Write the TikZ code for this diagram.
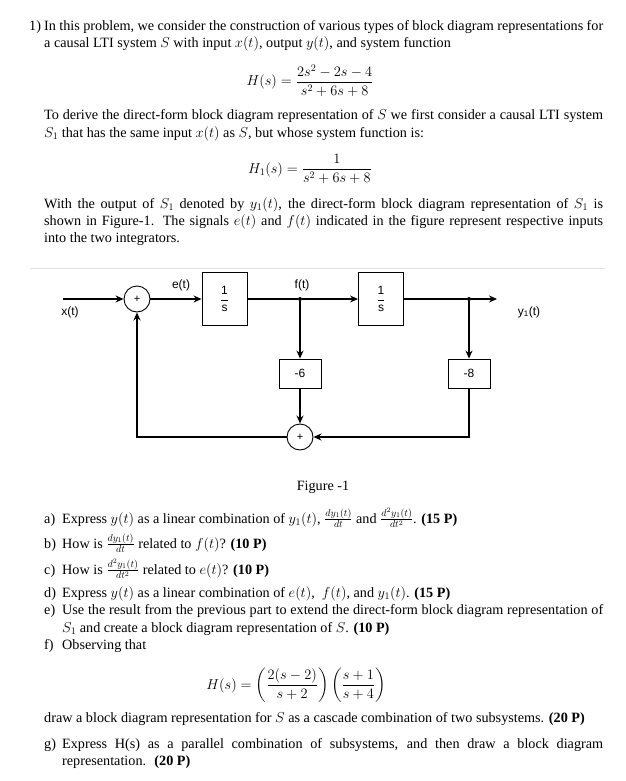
\documentclass[tikz,border=0pt]{standalone}
\usepackage{amsmath}
\usepackage{fontspec}
\setmainfont{Liberation Serif}
\newfontfamily\diagfont{Liberation Sans}
\usetikzlibrary{arrows.meta}
\tikzset{
  txt/.style={anchor=base west, inner sep=0pt, font=\fontsize{14.2}{16}\selectfont},
  ctr/.style={anchor=base, inner sep=0pt, font=\fontsize{14.2}{16}\selectfont},
  blk/.style={draw, line width=0.9pt, minimum width=45pt, minimum height=53pt, inner sep=0pt, font=\diagfont\fontsize{12}{14}\selectfont},
  gain/.style={draw, line width=0.9pt, minimum width=42pt, minimum height=29pt, inner sep=0pt, font=\diagfont\fontsize{12}{14}\selectfont},
  summ/.style={draw, circle, line width=0.9pt, minimum size=26pt, inner sep=0pt, font=\diagfont\fontsize{11}{13}\selectfont},
  sig/.style={line width=1.3pt, -{Stealth[length=8pt,width=7pt]}},
  wire/.style={line width=1.3pt},
  lab/.style={inner sep=0pt, font=\diagfont\fontsize{12}{14}\selectfont},
  dot/.style={circle, fill, inner sep=0pt, minimum size=4pt}
}
\newcommand{\jl}[1]{\makebox[559pt][s]{#1}}
\newcommand{\inv}{$\dfrac{\text{\diagfont 1}}{\text{\diagfont s}}$}
\begin{document}
\begin{tikzpicture}[x=1pt,y=-1pt]
\useasboundingbox (0,0) rectangle (625,781);
% paragraph 1
\node[txt] (n1) at (29,31) {1)};
\node[txt] (l1) at (44,31) {\jl{In this problem, we consider the construction of various types of block diagram representations for}};
\node[txt] (l2) at (44,48) {a causal LTI system $S$ with input $x(t)$, output $y(t)$, and system function};
\node[ctr] (eq1) at (310,86) {$H(s)=\dfrac{2s^2-2s-4}{s^2+6s+8}$};
\node[txt] (l3) at (44,120) {\jl{To derive the direct-form block diagram representation of $S$ we first consider a causal LTI system}};
\node[txt] (l4) at (44,137) {$S_1$ that has the same input $x(t)$ as $S$, but whose system function is:};
\node[ctr] (eq2) at (310,173) {$H_1(s)=\dfrac{1}{s^2+6s+8}$};
\node[txt] (l5) at (44,208) {\jl{With the output of $S_1$ denoted by $y_1(t)$, the direct-form block diagram representation of $S_1$ is}};
\node[txt] (l6) at (44,225) {\jl{shown in Figure-1. The signals $e(t)$ and $f(t)$ indicated in the figure represent respective inputs}};
\node[txt] (l7) at (44,242) {into the two integrators.};
% separator
\draw[gray!25, line width=0.8pt] (30,268) -- (605,268);
% diagram
\coordinate (xin) at (63,299);
\node[summ] (s1) at (137,299) {+};
\node[blk] (b1) at (224.5,299) {\inv};
\node[dot] (d1) at (300,299) {};
\node[blk] (b2) at (381,299) {\inv};
\node[dot] (d2) at (469,299) {};
\coordinate (yout) at (497,299);
\node[gain] (g6) at (300,373.5) {-6};
\node[gain] (g8) at (469,373.5) {-8};
\node[summ] (s2) at (300,437) {+};
\draw[sig] (xin) -- (s1);
\draw[sig] (s1) -- (b1);
\draw[wire] (b1) -- (d1);
\draw[sig] (d1) -- (b2);
\draw[wire] (b2) -- (d2);
\draw[sig] (d2) -- (yout);
\draw[sig] (d1) -- (g6);
\draw[sig] (g6) -- (s2);
\draw[sig] (d2) -- (g8);
\draw[sig] (g8.south) |- (s2.east);
\draw[sig] (s2.west) -| (s1.south);
\node[lab] (xl) at (70,312) {x(t)};
\node[lab] (el) at (181,285) {e(t)};
\node[lab] (fl) at (302,285) {f(t)};
\node[lab] (yl) at (529,312) {y\textsubscript{1}(t)};
% caption
\node[ctr] (fig) at (323,490) {Figure -1};
% items
\node[txt] (ia) at (44,523) {a)};
\node[txt] (ta) at (62,523) {Express $y(t)$ as a linear combination of $y_1(t)$, $\frac{dy_1(t)}{dt}$ and $\frac{d^2y_1(t)}{dt^2}$. \textbf{(15 P)}};
\node[txt] (ib) at (44,548) {b)};
\node[txt] (tb) at (62,548) {How is $\frac{dy_1(t)}{dt}$ related to $f(t)$? \textbf{(10 P)}};
\node[txt] (ic) at (44,574) {c)};
\node[txt] (tc) at (62,574) {How is $\frac{d^2y_1(t)}{dt^2}$ related to $e(t)$? \textbf{(10 P)}};
\node[txt] (id) at (44,597) {d)};
\node[txt] (td) at (62,597) {Express $y(t)$ as a linear combination of $e(t)$, \ $f(t)$, and $y_1(t)$. \textbf{(15 P)}};
\node[txt] (ie) at (44,614) {e)};
\node[txt] (te) at (62,614) {\makebox[541pt][s]{Use the result from the previous part to extend the direct-form block diagram representation of}};
\node[txt] (te2) at (62,632) {$S_1$ and create a block diagram representation of $S$. \textbf{(10 P)}};
\node[txt] (if) at (44,649) {f)};
\node[txt] (tf) at (62,649) {Observing that};
\node[ctr] (eq3) at (296,689) {$H(s)=\left(\dfrac{2(s-2)}{s+2}\right)\left(\dfrac{s+1}{s+4}\right)$};
\node[txt] (tdraw) at (44,722) {draw a block diagram representation for $S$ as a cascade combination of two subsystems. \textbf{(20 P)}};
\node[txt] (ig) at (44,748) {g)};
\node[txt] (tg) at (62,748) {\makebox[541pt][s]{Express H(s) as a parallel combination of subsystems, and then draw a block diagram}};
\node[txt] (tg2) at (62,765) {representation. \ \textbf{(20 P)}};
\end{tikzpicture}
\end{document}
